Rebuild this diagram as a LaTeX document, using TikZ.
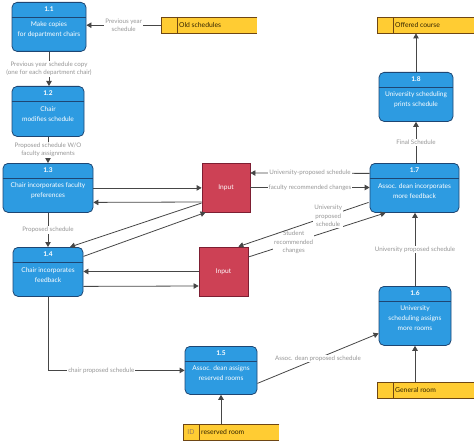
\documentclass[tikz,border=0pt]{standalone}
\usepackage{fontspec}
\setmainfont{Lato}
\usetikzlibrary{arrows.meta,calc}
\definecolor{pblue}{RGB}{45,155,225}
\definecolor{pborder}{RGB}{30,70,115}
\definecolor{ired}{RGB}{205,65,85}
\definecolor{iborder}{RGB}{125,30,50}
\definecolor{dyel}{RGB}{255,204,51}
\definecolor{dborder}{RGB}{110,70,20}
\definecolor{dtext}{RGB}{50,35,0}
\definecolor{lblgray}{RGB}{150,150,150}
\definecolor{linegray}{RGB}{70,70,70}
\newcommand\procbox[8]{%
  \node[proc, minimum width=#4pt, minimum height=#5pt, anchor=north] (#1) at (#2,#3) {};
  \draw[pborder, line width=0.8pt] ($(#1.north west)+(0,15)$) -- ($(#1.north east)+(0,15)$);
  \node[pnum] at ($(#1.north)+(0,7.5)$) {#6};
  \node[ptext] at (#2,#8) {#7};
}
\newcommand\dstore[5]{% name, x, y, width, text
  \node[fill=dyel, inner sep=0, minimum width=#4pt, minimum height=16pt, anchor=north west] (#1) at (#2,#3) {};
  \draw[dborder, line width=0.8pt] (#1.north east) -- (#1.north west) -- (#1.south west) -- (#1.south east);
  \draw[dborder, line width=0.8pt] ($(#1.north west)+(16,0)$) -- ($(#1.south west)+(16,0)$);
  \node[dtxt, anchor=west] at ($(#1.west)+(17,0)$) {#5};
}
\begin{document}
\begin{tikzpicture}[x=1pt,y=-1pt,
  proc/.style={draw=pborder, line width=0.8pt, fill=pblue, rounded corners=5pt, inner sep=0},
  ptext/.style={text=white, font=\fontsize{6.6}{10}\selectfont, align=center},
  pnum/.style={text=white, font=\bfseries\fontsize{6.6}{8}\selectfont},
  inbox/.style={draw=iborder, line width=0.8pt, fill=ired, inner sep=0, text=white, font=\fontsize{6.6}{8}\selectfont},
  dtxt/.style={text=dtext, font=\fontsize{6.8}{8}\selectfont, inner sep=1pt},
  flow/.style={draw=linegray, line width=0.8pt, -{Triangle[length=5pt,width=5.5pt]}},
  lbl/.style={fill=white, text=lblgray, font=\fontsize{6.2}{8.5}\selectfont, align=center, inner sep=1pt},
]
\useasboundingbox (0,0) rectangle (474,444);

% processes
\procbox{p11}{49}{2}{74}{49}{1.1}{Make copies\\for department chairs}{30}
\procbox{p12}{48}{86}{72}{50}{1.2}{Chair\\modifies schedule}{114}
\procbox{p13}{48}{163}{90}{49}{1.3}{Chair incorporates faculty\\preferences}{191}
\procbox{p14}{48}{247}{70}{49}{1.4}{Chair incorporates\\feedback}{275}
\procbox{p15}{221}{346}{72}{48}{1.5}{Assoc. dean assigns\\reserved rooms}{373}
\procbox{p16}{415}{286}{72}{59}{1.6}{University\\scheduling assigns\\more rooms}{318}
\procbox{p17}{414.5}{163}{89}{49}{1.7}{Assoc. dean incorporates\\more feedback}{191}
\procbox{p18}{416}{72}{74}{49}{1.8}{University scheduling\\prints schedule}{99.5}

% inputs
\node[inbox, minimum width=48pt, minimum height=49pt] (i1) at (226,187.5) {Input};
\node[inbox, minimum width=49pt, minimum height=49pt] (i2) at (223.5,271.5) {Input};

% data stores
\dstore{dold}{161}{17}{96}{Old schedules}
\dstore{doff}{377}{17}{97}{Offered course}
\dstore{dgen}{377}{382}{97}{General room}
\dstore{dres}{183}{424}{96}{reserved room}
\node[dtxt, text=dborder!70] at ($(dres.west)+(8,0)$) {ID};

% connectors
\draw[flow] (dold.west) -- (p11.east |- dold.west) node[lbl, midway] {Previous year\\schedule};
\draw[flow] (p11.south) -- (p11.south |- p12.north) node[lbl, midway] {Previous year schedule copy\\(one for each department chair)};
\draw[flow] (p12.south) -- (p12.south |- p13.north) node[lbl, midway] {Proposed schedule W/O\\faculty assignments};
\draw[flow] (p13.east) -- (p13.east -| i1.west);
\draw[flow] ($(i1.west)+(0,14.5)$) -- ($(p13.east)+(0,14.5)$);
\draw[flow] (p13.south) -- (p13.south |- p14.north) node[lbl, midway] {Proposed schedule};
\draw[flow] ($(i1.west)+(0,15.5)$) -- ($(p14.north)+(22,0)$);
\draw[flow] ($(p14.east)+(0,-15.5)$) -- ($(i1.south west)+(4,0)$);
\draw[flow] (i2.west) -- (i2.west -| p14.east);
\draw[flow] ($(p14.east)+(0,14.5)$) -- ($(i2.west)+(0,14.5)$);
\draw[flow] (p14.south) -- (p14.south |- p15.west) -- (p15.west) node[lbl, pos=0.39] {chair proposed schedule};
\draw[flow] ($(p15.east)+(0,13)$) -- ($(p16.west)+(0,17.5)$) node[lbl, midway] {Assoc. dean proposed schedule};
\draw[flow] (p16.south |- dgen.north) -- (p16.south);
\draw[flow] (p15.south |- dres.north) -- (p15.south);
\draw[flow] (p16.north) -- (p16.north |- p17.south) node[lbl, midway] {University proposed schedule};
\draw[flow] ($(p17.west)+(0,-14.5)$) -- ($(i1.east)+(0,-14.5)$) node[lbl, midway] {University-proposed schedule};
\draw[flow] (i1.east) -- (i1.east -| p17.west) node[lbl, midway] {faculty recommended changes};
\draw[flow] ($(i2.east)+(0,-14.5)$) -- ($(p17.south west)+(16,0)$) node[lbl, pos=0.33] {Student\\recommended\\changes};
\draw[flow] ($(p17.west)+(-1,14.5)$) -- ($(i2.north east)+(-10,0)$) node[lbl, pos=0.31] {University\\proposed\\schedule};
\draw[flow] (p18.south |- p17.north) -- (p18.south) node[lbl, midway] {Final Schedule};
\draw[flow] (p18.north) -- (p18.north |- doff.south);
\end{tikzpicture}
\end{document}
